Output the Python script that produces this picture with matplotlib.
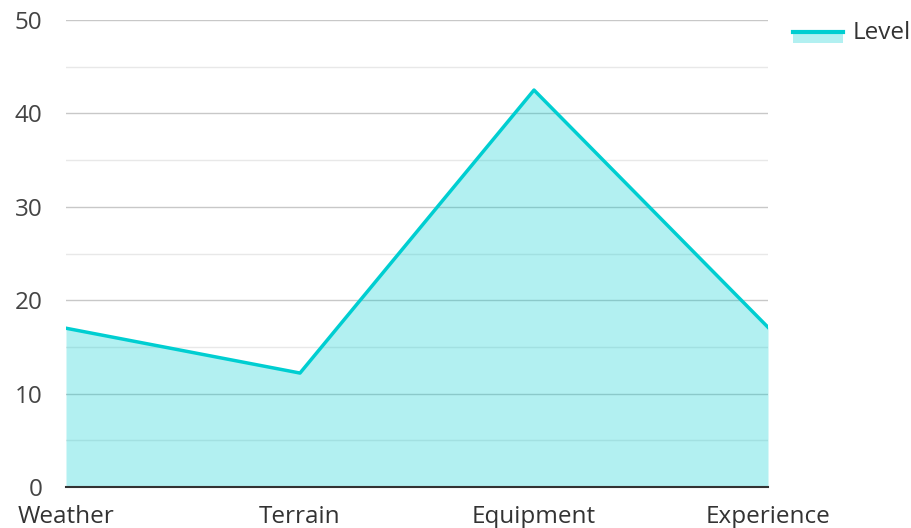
import matplotlib
matplotlib.use("Agg")
import matplotlib.pyplot as plt
from matplotlib.patches import Rectangle
from matplotlib.lines import Line2D
from matplotlib.ticker import MultipleLocator

categories = ["Weather", "Terrain", "Equipment", "Experience"]
level = [17.0, 12.2, 42.5, 17.1]
yticks = [0, 10, 20, 30, 40, 50]

plt.rcParams['font.family'] = ['Open Sans', 'DejaVu Sans']
color = "#00CED1"
W, H = 912, 528
fs = 17.5

fig = plt.figure(figsize=(9.12, 5.28), dpi=100)
ax = fig.add_axes([66/W, 1-487/H, (768-66)/W, (487-20)/H])

x = list(range(len(categories)))
ax.fill_between(x, level, 0, color=color, alpha=0.3, linewidth=0, zorder=2)
ax.plot(x, level, color=color, linewidth=2.5, zorder=3)

ax.set_xlim(0, len(categories)-1)
ax.set_ylim(0, 50)
ax.set_xticks(x)
ax.set_xticklabels(categories)
ax.set_yticks(yticks)
ax.yaxis.set_minor_locator(MultipleLocator(5))
ax.grid(which='major', axis='y', color='#c8c8c8', linewidth=1, zorder=1)
ax.grid(which='minor', axis='y', color='#e8e8e8', linewidth=1, zorder=1)
ax.set_axisbelow(True)
for s in ['top', 'right', 'left']:
    ax.spines[s].set_visible(False)
ax.spines['bottom'].set_color('#333333')
ax.spines['bottom'].set_linewidth(1.5)
ax.spines['bottom'].set_zorder(4)
ax.tick_params(axis='both', which='both', length=0, labelsize=fs, colors='#444444')
ax.tick_params(axis='y', pad=17)
ax.tick_params(axis='x', pad=13)
for lab in ax.get_xticklabels():
    lab.set_color('#333333')

# legend drawn in figure pixel coordinates
fig.add_artist(Rectangle((793/W, 1-43/H), 50/W, 12/H, transform=fig.transFigure,
                         facecolor=color, alpha=0.3, edgecolor='none'))
fig.add_artist(Line2D([793/W, 843/W], [1-32/H, 1-32/H], transform=fig.transFigure,
                      color=color, linewidth=3))
fig.text(853/W, 1-33/H, "Level", fontsize=fs, color='#333333', va='center', ha='left')

fig.savefig("out.png", dpi=100)
